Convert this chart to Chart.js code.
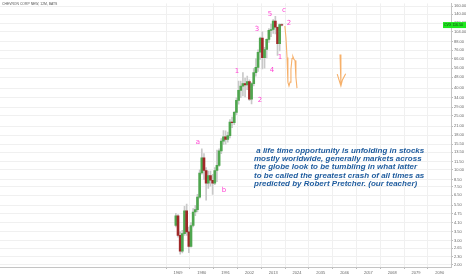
<!DOCTYPE html>
<html>
<head>
<meta charset="utf-8">
<script src="https://cdn.jsdelivr.net/npm/chart.js@4.4.1/dist/chart.umd.min.js"></script>
<style>
  html, body { margin: 0; padding: 0; background: #fff; overflow: hidden; }
  canvas { display: block; }
</style>
</head>
<body>
<canvas id="chart" width="466" height="275"></canvas>
<script>
// yearly candles, CVX (split adjusted)
var years  = [1968,1969,1970,1971,1972,1973,1974,1975,1976,1977,1978,1979,1980,1981,1982,1983,1984,1985,1986,1987,
              1988,1989,1990,1991,1992,1993,1994,1995,1996,1997,1998,1999,2000,2001,2002,2003,2004,2005,2006,2007,
              2008,2009,2010,2011,2012,2013,2014,2015,2016,2017];
var opens  = [3.9,4.6,3.3,2.52,3.4,5.0,3.5,2.74,3.9,4.9,5.1,6.3,9.5,12.3,9.9,8.0,9.1,8.4,8.0,9.9,
              10.8,13.8,16.3,17.5,16.8,17.9,22.5,22.3,26.5,32.5,38.5,41.4,43.3,42.2,44.8,33.2,43.2,52.0,56.8,73.5,
              93.3,67.0,77.0,91.3,106.4,108.1,124.9,112.2,85.0,117.7];
var highs  = [4.8,4.7,3.5,3.6,5.4,5.6,3.8,4.1,5.2,5.5,6.6,10.0,14.3,13.2,10.4,9.8,9.8,9.3,10.4,14.0,
              14.3,17.0,19.5,19.4,19.0,23.5,24.5,27.0,34.0,45.0,45.0,52.0,47.5,49.0,46.0,44.0,56.0,66.0,76.5,95.0,
              104.0,79.8,92.4,110.0,118.5,127.8,135.1,113.0,119.0,119.0];
var lows   = [3.8,3.2,2.40,2.45,3.3,3.3,2.46,2.7,3.8,4.6,4.9,6.2,9.3,8.5,6.0,7.3,7.6,6.6,7.8,8.2,
              10.6,13.2,15.4,15.5,16.0,17.2,20.5,21.5,25.5,30.5,34.0,35.0,34.5,39.0,32.5,30.6,41.5,49.0,53.0,65.0,
              55.5,56.1,66.8,86.7,95.7,101.0,100.2,69.6,75.3,114.8];
var closes = [4.6,3.3,2.52,3.4,5.0,3.5,2.74,3.9,4.9,5.1,6.3,9.5,12.3,9.9,8.0,9.1,8.4,8.0,9.9,10.8,
              13.8,16.3,17.5,16.8,17.9,22.5,22.3,26.5,32.5,38.5,41.4,43.3,42.2,44.8,33.2,43.2,52.0,56.8,73.5,93.3,
              67.0,77.0,91.3,106.4,108.1,124.9,112.2,85.0,117.7,116.5];

// hand drawn projection (orange)
var projYears  = [2018.4,2018.9,2019.4,2019.8,2020.3,2020.8,2021.2,2021.7,2022.1,2022.6,2023.1,2023.5,2024.0];
var projPrices = [114.6,93.9,67.3,44.3,41.5,44.3,55.1,66.1,68.4,65.0,64.0,48.2,40.0];
var arrowYears  = [2043.9,2044.3,null,2042.6,2044.3,2045.0,2046.5];
var arrowPrices = [70.7,42.9,null,50.7,41.5,46.0,51.0];

// wave labels (pink)
var waveLabels = ['a','b','1','2','3','4','5','c','1','2'];
var waveYears  = [1978.2,1990.3,1996.3,2006.9,2005.5,2012.4,2011.5,2018.0,2016.1,2020.3];
var wavePrices = [16.0,7.1,53.3,32.8,109,54.2,140,149.7,67.3,120.5];

var xTickYears = [1969,1980,1991,2002,2013,2024,2035,2046,2057,2068,2079,2090];
var yTicks = [160,140,120,104,88,76,66,56,48,40,34,29,25,21,18,15.5,13.5,11.5,10,8.5,7.5,6.5,5.5,4.75,4.1,3.5,3,2.65,2.3,2];

var title = 'CHEVRON CORP NEW, 12M, BATS';
var note = [
  ' a life time opportunity is unfolding in stocks',
  'mostly worldwide, generally markets across',
  'the globe look to be tumbling in what latter',
  'to be called the greatest crash of all times as',
  'predicted by Robert Pretcher. (our teacher)'
];

var upColor = '#4fa64f', downColor = '#a02828';

var wicks = years.map(function (y, i) { return { x: y, y: [lows[i], highs[i]] }; });
var bodies = years.map(function (y, i) { return { x: y, y: [opens[i], closes[i]] }; });
var bodyColors = years.map(function (y, i) { return closes[i] >= opens[i] ? upColor : downColor; });
var proj = projYears.map(function (y, i) { return { x: y, y: projPrices[i] }; });
var arrow = arrowYears.map(function (y, i) { return { x: y, y: arrowPrices[i] }; });

var overlay = {
  id: 'overlay',
  afterDraw: function (chart) {
    var c = chart.ctx, xs = chart.scales.x, ys = chart.scales.y;
    c.save();
    // title
    c.fillStyle = '#555';
    c.font = '3.4px "Liberation Sans"';
    c.textBaseline = 'middle';
    c.textAlign = 'left';
    c.fillText(title, 2, 4);

    // wave labels
    c.fillStyle = '#ff3fd2';
    c.font = '7px "DejaVu Sans"';
    c.textAlign = 'center';
    waveLabels.forEach(function (t, i) {
      c.fillText(t, xs.getPixelForValue(waveYears[i]), ys.getPixelForValue(wavePrices[i]));
    });

    // note
    c.fillStyle = '#1f5c9e';
    c.font = 'italic bold 8px "Liberation Sans"';
    c.textAlign = 'left';
    note.forEach(function (t, i) {
      c.fillText(t, 254, 151 + i * 8.1);
    });

    // last price label
    var last = closes[closes.length - 1];
    var py = ys.getPixelForValue(last);
    c.fillStyle = '#1ee81e';
    c.fillRect(443, py - 3, 23, 6);
    c.fillStyle = '#1a3a1a';
    c.font = '3.6px "Liberation Sans"';
    c.fillText('CVX ' + last.toFixed(2), 444, py + 0.3);
    c.restore();
  }
};

new Chart(document.getElementById('chart'), {
  type: 'bar',
  data: {
    datasets: [
      { data: wicks, backgroundColor: '#c9c9c9', barThickness: 1, grouped: false, order: 3 },
      { data: bodies, backgroundColor: bodyColors, barThickness: 2, grouped: false, order: 2 },
      { type: 'line', data: proj, borderColor: '#f6b06a', borderWidth: 1.1, pointRadius: 0, order: 1 },
      { type: 'line', data: arrow, borderColor: '#f6b06a', borderWidth: 1.1, pointRadius: 0, spanGaps: false, order: 1 }
    ]
  },
  options: {
    responsive: false,
    devicePixelRatio: 1,
    animation: false,
    layout: { padding: 0 },
    plugins: { legend: { display: false }, tooltip: { enabled: false } },
    scales: {
      x: {
        type: 'linear',
        min: 1886.7,
        max: 2095.2,
        offset: false,
        grid: { color: '#f0f0f0', tickLength: 2, tickColor: '#bbb' },
        border: { color: '#c4c4c4' },
        ticks: {
          autoSkip: false, maxRotation: 0, padding: 1,
          color: '#666', font: { size: 4, family: 'Liberation Sans' },
          callback: function (v) { return String(v); }
        },
        afterBuildTicks: function (s) { s.ticks = xTickYears.map(function (v) { return { value: v }; }); },
        afterFit: function (s) { s.height = 8; }
      },
      y: {
        type: 'logarithmic',
        position: 'right',
        min: 1.93,
        max: 168.2,
        grid: { color: '#f0f0f0', tickLength: 2, tickColor: '#bbb' },
        border: { color: '#c4c4c4' },
        ticks: {
          autoSkip: false, padding: 1,
          color: '#666', font: { size: 4, family: 'Liberation Sans' },
          callback: function (v) { return Number(v).toFixed(2); }
        },
        afterBuildTicks: function (s) { s.ticks = yTicks.map(function (v) { return { value: v }; }); },
        afterFit: function (s) { s.width = 15; }
      }
    }
  },
  plugins: [overlay]
});
</script>
</body>
</html>
